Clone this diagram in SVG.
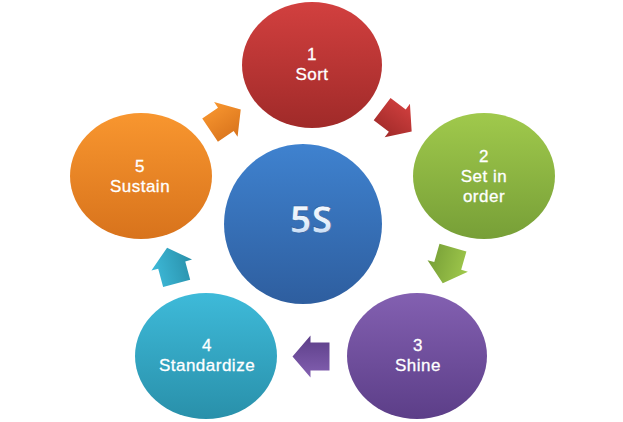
<svg xmlns="http://www.w3.org/2000/svg" width="623" height="422" viewBox="0 0 623 422">
  <defs>
    <linearGradient id="gRed" x1="0" y1="0" x2="0" y2="1">
      <stop offset="0" stop-color="#d2403f"/>
      <stop offset="1" stop-color="#a02a29"/>
    </linearGradient>
    <linearGradient id="gGreen" x1="0" y1="0" x2="0" y2="1">
      <stop offset="0" stop-color="#a0c94c"/>
      <stop offset="1" stop-color="#779f37"/>
    </linearGradient>
    <linearGradient id="gPurple" x1="0" y1="0" x2="0" y2="1">
      <stop offset="0" stop-color="#8360b1"/>
      <stop offset="1" stop-color="#5c3e88"/>
    </linearGradient>
    <linearGradient id="gCyan" x1="0" y1="0" x2="0" y2="1">
      <stop offset="0" stop-color="#3ebad9"/>
      <stop offset="1" stop-color="#2990aa"/>
    </linearGradient>
    <linearGradient id="gOrange" x1="0" y1="0" x2="0" y2="1">
      <stop offset="0" stop-color="#f8962f"/>
      <stop offset="1" stop-color="#d8731c"/>
    </linearGradient>
    <linearGradient id="gBlue" x1="0" y1="0" x2="0" y2="1">
      <stop offset="0" stop-color="#3f82cf"/>
      <stop offset="1" stop-color="#2e5e9f"/>
    </linearGradient>
    <linearGradient id="gText" x1="0" y1="0" x2="0" y2="1">
      <stop offset="0" stop-color="#ffffff"/>
      <stop offset="0.6" stop-color="#e4effb"/>
      <stop offset="1" stop-color="#a9caf0"/>
    </linearGradient>
    <path id="arrow" d="M-18,-14 L1,-14 L1,-21 L19,0 L1,21 L1,14 L-18,14 Z"/>
  </defs>
  <style>
    .lbl { font-family: "Liberation Sans", Arial, sans-serif; font-size: 17px; letter-spacing: 0.5px; fill: #ffffff; stroke: #ffffff; stroke-width: 0.3; text-anchor: middle; }
    .big { font-family: "Noto Sans", "Open Sans", "Liberation Sans", sans-serif; font-size: 38px; font-weight: bold; fill: url(#gText); stroke: #2a5a9a; stroke-width: 0.6; text-anchor: middle; }
  </style>
  <rect width="623" height="422" fill="#ffffff"/>

  <g id="connectors">
    <use href="#arrow" fill="url(#gRed)" transform="translate(396.5,120) rotate(37)"/>
    <use href="#arrow" fill="url(#gGreen)" transform="translate(448,265) rotate(106)"/>
    <use href="#arrow" fill="url(#gPurple)" transform="translate(311.5,356.5) rotate(180)"/>
    <use href="#arrow" fill="url(#gCyan)" transform="translate(172,266) rotate(255)"/>
    <use href="#arrow" fill="url(#gOrange)" transform="translate(225,120) rotate(-34)"/>
  </g>

  <g id="node-center">
    <ellipse cx="303" cy="224" rx="79" ry="80" fill="url(#gBlue)"/>
    <text class="big" x="311" y="233">5S</text>
  </g>

  <g id="node-1">
    <ellipse cx="312" cy="65" rx="70" ry="63" fill="url(#gRed)"/>
    <text class="lbl" x="312" y="60">1</text>
    <text class="lbl" x="312" y="80">Sort</text>
  </g>

  <g id="node-2">
    <ellipse cx="484" cy="176" rx="71" ry="63" fill="url(#gGreen)"/>
    <text class="lbl" x="484" y="162">2</text>
    <text class="lbl" x="484" y="182">Set in</text>
    <text class="lbl" x="484" y="202">order</text>
  </g>

  <g id="node-3">
    <ellipse cx="417" cy="356" rx="70" ry="63" fill="url(#gPurple)"/>
    <text class="lbl" x="418" y="351">3</text>
    <text class="lbl" x="418" y="371">Shine</text>
  </g>

  <g id="node-4">
    <ellipse cx="206" cy="356" rx="71" ry="63" fill="url(#gCyan)"/>
    <text class="lbl" x="207" y="351">4</text>
    <text class="lbl" x="207" y="371">Standardize</text>
  </g>

  <g id="node-5">
    <ellipse cx="141" cy="176" rx="71" ry="63" fill="url(#gOrange)"/>
    <text class="lbl" x="140" y="172">5</text>
    <text class="lbl" x="140" y="192">Sustain</text>
  </g>
</svg>
